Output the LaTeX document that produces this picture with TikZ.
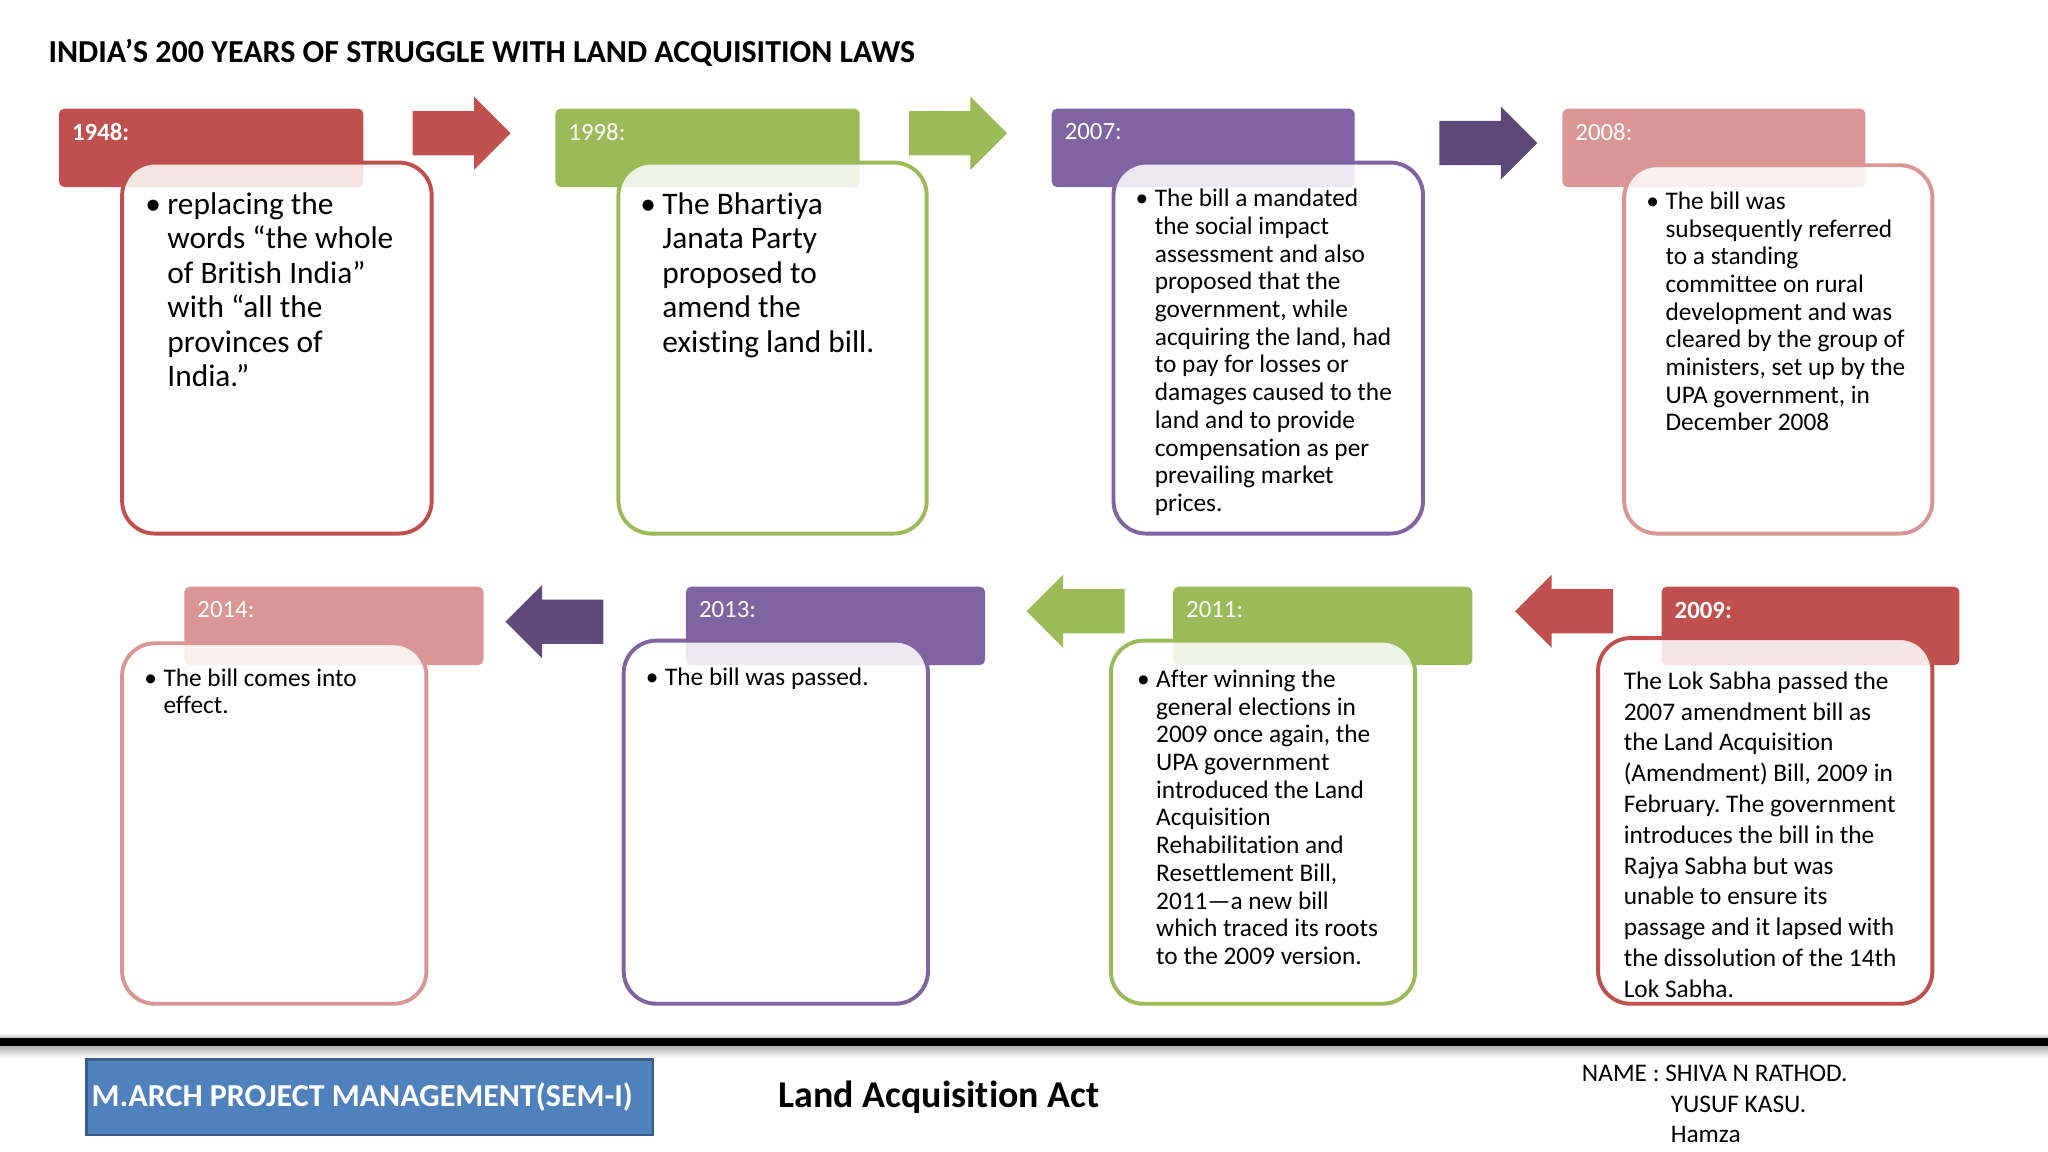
\documentclass[tikz,border=0pt]{standalone}
\usepackage{fontspec}
\setmainfont{Carlito}[Ligatures=NoCommon, Contextuals=NoAlternate]
\usetikzlibrary{calc}
\definecolor{tlred}{HTML}{C0504D}
\definecolor{tlgreen}{HTML}{9BBB59}
\definecolor{tlpurple}{HTML}{8064A2}
\definecolor{tlpink}{HTML}{D99694}
\definecolor{tlplum}{HTML}{5F497A}
\definecolor{tlblue}{HTML}{4F81BD}
\definecolor{tlblueline}{HTML}{385D8A}
\newcommand\tlbullet{\llap{\textbullet\hspace{5pt}}}
\frenchspacing

\begin{document}
\begin{tikzpicture}[x=1pt,y=-1pt,
    header/.style={anchor=north west, rounded corners=4pt, fill=#1, minimum height=60pt, inner sep=0pt},
    body/.style={anchor=north west, rounded corners=25pt, draw=#1, line width=3pt, fill=white, fill opacity=0.85, inner sep=0pt},
    yearlbl/.style={anchor=west, text=white, inner sep=0pt, font=\fontsize{19}{23}\selectfont},
    txt/.style={anchor=north west, align=left, inner sep=0pt, execute at begin node=\strut, font=\fontsize{19.4}{21.2}\selectfont},
    bigtxt/.style={txt, font=\fontsize{24}{26.4}\selectfont},
    pics/blockarrow/.style={code={\fill[#1] (0,-17) -- (47,-17) -- (47,-28) -- (75,0) -- (47,28) -- (47,17) -- (0,17) -- cycle;}}
    ]
\useasboundingbox (0,0) rectangle (1568,882);

\node[anchor=base west, inner sep=0pt, font=\bfseries\fontsize{24.5}{29}\selectfont] (title) at (37,48)
    {INDIA’S 200 YEARS OF STRUGGLE WITH LAND ACQUISITION LAWS};

% year boxes: header, then body on top
\foreach \n/\c/\hx/\hy/\hw/\bx/\by/\bw/\bh/\yr in {
    1/tlred/45/83/233/92/123/237/284/{\bfseries 1948:},
    2/tlgreen/425/83/233/472/123/236/284/1998:,
    3/tlpurple/805/83/232/851/123/237/284/2007:,
    4/tlpink/1196/83/232/1242/125/236/282/2008:,
    5/tlpink/141/449/229/92/491/233/276/2014:,
    6/tlpurple/525/449/229/476/489/233/278/2013:,
    7/tlgreen/898/449/229/849/489/233/278/2011:,
    8/tlred/1272/449/228/1222/487/256/280/{\bfseries 2009:}}{
    \node[header=\c, minimum width=\hw pt] (h\n) at (\hx,\hy) {};
    \node[yearlbl] (y\n) at ($(h\n.north west)+(10,18)$) {\yr};
    \node[body=\c, minimum width=\bw pt, minimum height=\bh pt] (b\n) at (\bx,\by) {};
}

% arrows between the boxes
\pic at (316,102) {blockarrow=tlred};
\pic at (696,102) {blockarrow=tlgreen};
\pic at (1102,109.5) {blockarrow=tlplum};
\pic[xscale=-1] at (462,476) {blockarrow=tlplum};
\pic[xscale=-1] at (861,468) {blockarrow=tlgreen};
\pic[xscale=-1] at (1235,468) {blockarrow=tlred};

% box texts
\node[bigtxt] (t1) at ($(b1.north west)+(36,24.3)$) {\tlbullet replacing the\\words “the whole\\of British India”\\with “all the\\provinces of\\India.”};
\node[bigtxt] (t2) at ($(b2.north west)+(35,24.3)$) {\tlbullet The Bhartiya\\Janata Party\\proposed to\\amend the\\existing land bill.};
\node[txt] (t3) at ($(b3.north west)+(33,21.7)$) {\tlbullet The bill a mandated\\the social impact\\assessment and also\\proposed that the\\government, while\\acquiring the land, had\\to pay for losses or\\damages caused to the\\land and to provide\\compensation as per\\prevailing market\\prices.};
\node[txt] (t4) at ($(b4.north west)+(33,21.7)$) {\tlbullet The bill was\\subsequently referred\\to a standing\\committee on rural\\development and was\\cleared by the group of\\ministers, set up by the\\UPA government, in\\December 2008};
\node[txt] (t5) at ($(b5.north west)+(33,20.7)$) {\tlbullet The bill comes into\\effect.};
\node[txt] (t6) at ($(b6.north west)+(33,20.7)$) {\tlbullet The bill was passed.};
\node[txt] (t7) at ($(b7.north west)+(36,23.7)$) {\tlbullet After winning the\\general elections in\\2009 once again, the\\UPA government\\introduced the Land\\Acquisition\\Rehabilitation and\\Resettlement Bill,\\2011—a new bill\\which traced its roots\\to the 2009 version.};
\node[txt, font=\fontsize{19.4}{23.6}\selectfont] (t8) at ($(b8.north west)+(21,27)$) {The Lok Sabha passed the\\2007 amendment bill as\\the Land Acquisition\\(Amendment) Bill, 2009 in\\February. The government\\introduces the bill in the\\Rajya Sabha but was\\unable to ensure its\\passage and it lapsed with\\the dissolution of the 14th\\Lok Sabha.};

% footer
\shade[top color=white, bottom color=gray!60] (0,791) rectangle (1568,795);
\fill[black] (0,795) rectangle (1568,801);
\shade[top color=gray!60, bottom color=white] (0,801) rectangle (1568,810);
\node[anchor=north west, fill=tlblue, draw=tlblueline, line width=2pt, minimum width=434pt, minimum height=58pt, inner sep=0pt] (course) at (65,810) {};
\node[anchor=west, inner sep=0pt, text=white, font=\bfseries\fontsize{24.5}{29}\selectfont] (coursetxt) at ($(course.west)+(5,0)$) {M.ARCH PROJECT MANAGEMENT(SEM-I)};
\node[anchor=west, inner sep=0pt, font=\bfseries\fontsize{29}{34}\selectfont] (topic) at (596,840) {Land Acquisition Act};
\node[anchor=base west, inner sep=0pt, font=\fontsize{19.4}{23.6}\selectfont] (name1) at (1211,828) {NAME : SHIVA N RATHOD.};
\node[anchor=base west, inner sep=0pt, font=\fontsize{19.4}{23.6}\selectfont] (name2) at (1279,851.5) {YUSUF KASU.};
\node[anchor=base west, inner sep=0pt, font=\fontsize{19.4}{23.6}\selectfont] (name3) at (1279,875) {Hamza};
\end{tikzpicture}
\end{document}
